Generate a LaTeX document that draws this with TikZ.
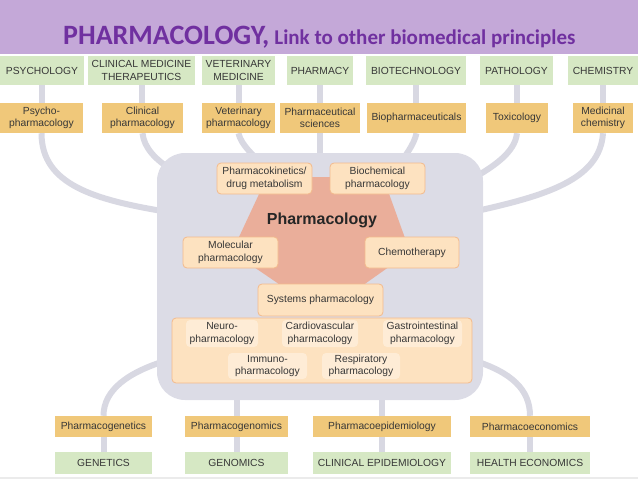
\documentclass[tikz,border=0pt]{standalone}
\usepackage{fontspec}
\setmainfont{Liberation Sans}
\newfontfamily\titlefont{Carlito}
\usetikzlibrary{backgrounds}
\definecolor{banner}{RGB}{196,168,216}
\definecolor{titlecol}{RGB}{112,48,160}
\definecolor{greenbox}{RGB}{214,232,196}
\definecolor{orangebox}{RGB}{240,200,122}
\definecolor{coregray}{RGB}{220,220,230}
\definecolor{conncol}{RGB}{216,216,226}
\definecolor{lightor}{RGB}{253,226,192}
\definecolor{lightorborder}{RGB}{243,186,140}
\definecolor{faintor}{RGB}{254,236,214}
\definecolor{salmon}{RGB}{234,174,154}
\definecolor{txt}{RGB}{55,55,55}
\tikzset{
  base/.style={inner sep=0pt, align=center, text=txt, font=\fontsize{10.3}{12.5}\selectfont},
  gbox/.style={base, fill=greenbox},
  obox/.style={base, fill=orangebox},
  lbox/.style={base, fill=lightor, draw=lightorborder, line width=0.8pt, rounded corners=4pt},
  fbox/.style={base, fill=faintor, rounded corners=4pt},
  conn/.style={draw=conncol, line width=6pt},
}
\begin{document}
\begin{tikzpicture}[x=1pt,y=-1pt]
\useasboundingbox (0,0) rectangle (638,479);
% banner
\fill[banner] (0,0) rectangle (638,54);
\node[anchor=base west, inner sep=0pt, text=titlecol, font=\titlefont\bfseries] (title) at (63,45)
  {{\fontsize{28}{28}\selectfont PHARMACOLOGY,}\hspace{5pt}{\fontsize{21}{21}\selectfont Link to other biomedical principles}};
% top green row
\node[gbox, minimum width=84pt, minimum height=29pt] (psy) at (42,70.5) {PSYCHOLOGY};
\node[gbox, minimum width=107pt, minimum height=29pt] (clinmed) at (141.5,70.5) {CLINICAL MEDICINE\\THERAPEUTICS};
\node[gbox, minimum width=73pt, minimum height=29pt] (vetmed) at (238.5,70.5) {VETERINARY\\MEDICINE};
\node[gbox, minimum width=66pt, minimum height=29pt] (pharmacy) at (320,70.5) {PHARMACY};
\node[gbox, minimum width=100pt, minimum height=29pt] (biotech) at (416,70.5) {BIOTECHNOLOGY};
\node[gbox, minimum width=73pt, minimum height=29pt] (patho) at (516.5,70.5) {PATHOLOGY};
\node[gbox, minimum width=70pt, minimum height=29pt] (chem) at (603,70.5) {CHEMISTRY};
% orange row
\node[obox, minimum width=83pt, minimum height=30pt] (psyph) at (41.5,118) {Psycho-\\pharmacology};
\node[obox, minimum width=81pt, minimum height=30pt] (clinph) at (142.5,118) {Clinical\\pharmacology};
\node[obox, minimum width=73pt, minimum height=30pt] (vetph) at (238.5,118) {Veterinary\\pharmacology};
\node[obox, minimum width=80pt, minimum height=30pt] (pharmsci) at (320,118) {Pharmaceutical\\sciences};
\node[obox, minimum width=99pt, minimum height=30pt] (bioph) at (416.5,118) {Biopharmaceuticals};
\node[obox, minimum width=62pt, minimum height=30pt] (tox) at (517,118) {Toxicology};
\node[obox, minimum width=60pt, minimum height=30pt] (medch) at (603,118) {Medicinal\\chemistry};
% core
\node[fill=coregray, rounded corners=28pt, minimum width=326pt, minimum height=247pt, inner sep=0pt] (core) at (320,276.5) {};
\fill[salmon] (267,177) -- (383,177) -- (410,252) -- (352,293) -- (292,293) -- (232,252) -- cycle;
\node[inner sep=0pt, font=\fontsize{16}{16}\selectfont\bfseries, text=black!85] (pharmacology) at (322,220) {Pharmacology};
\node[lbox, minimum width=95pt, minimum height=31pt] (pk) at (264.5,178.5) {Pharmacokinetics/\\drug metabolism};
\node[lbox, minimum width=95pt, minimum height=31pt] (bc) at (377.5,178.5) {Biochemical\\pharmacology};
\node[lbox, minimum width=95pt, minimum height=31pt] (mol) at (230.5,252.5) {Molecular\\pharmacology};
\node[lbox, minimum width=94pt, minimum height=31pt] (chemo) at (412,252.5) {Chemotherapy};
\node[lbox, minimum width=125pt, minimum height=32pt] (sys) at (320.5,300) {Systems pharmacology};
\node[lbox, minimum width=300pt, minimum height=65pt] (big) at (322,350.5) {};
\node[fbox, minimum width=72pt, minimum height=27pt] (neuro) at (222,333.5) {Neuro-\\pharmacology};
\node[fbox, minimum width=76pt, minimum height=27pt] (cardio) at (320,333.5) {Cardiovascular\\pharmacology};
\node[fbox, minimum width=79pt, minimum height=27pt] (gastro) at (422.5,333.5) {Gastrointestinal\\pharmacology};
\node[fbox, minimum width=79pt, minimum height=26pt] (immuno) at (267.5,366) {Immuno-\\pharmacology};
\node[fbox, minimum width=78pt, minimum height=26pt] (resp) at (361,366) {Respiratory\\pharmacology};
% bottom rows
\node[obox, minimum width=97pt, minimum height=21pt] (pgen) at (103.5,426.5) {Pharmacogenetics};
\node[obox, minimum width=103pt, minimum height=21pt] (pgenom) at (236.5,426.5) {Pharmacogenomics};
\node[obox, minimum width=138pt, minimum height=21pt] (pepi) at (382,426.5) {Pharmacoepidemiology};
\node[obox, minimum width=120pt, minimum height=21pt] (pecon) at (530,426.5) {Pharmacoeconomics};
\node[gbox, minimum width=97pt, minimum height=22pt] (genetics) at (103.5,463) {GENETICS};
\node[gbox, minimum width=103pt, minimum height=22pt] (genomics) at (236.5,463) {GENOMICS};
\node[gbox, minimum width=138pt, minimum height=22pt] (clinepi) at (382,463) {CLINICAL EPIDEMIOLOGY};
\node[gbox, minimum width=120pt, minimum height=22pt] (healthec) at (530,463) {HEALTH ECONOMICS};
% connector ends inside core
\coordinate (c1) at (168,212);
\coordinate (c2) at (172,170);
\coordinate (c3) at (264,166);
\coordinate (c4) at (320,166);
\coordinate (c5) at (398,166);
\coordinate (c6) at (470,180);
\coordinate (c7) at (472,212);
\coordinate (b1) at (168,360);
\coordinate (b2) at (236.5,390);
\coordinate (b3) at (382,390);
\coordinate (b4) at (472,360);
\begin{pgfonlayer}{background}
\draw[conn] (psy.south) -- (psy.south |- psyph.north);
\draw[conn] (clinmed.south) -- (clinmed.south |- clinph.north);
\draw[conn] (vetmed.south) -- (vetmed.south |- vetph.north);
\draw[conn] (pharmacy.south) -- (pharmacy.south |- pharmsci.north);
\draw[conn] (biotech.south) -- (biotech.south |- bioph.north);
\draw[conn] (patho.south) -- (patho.south |- tox.north);
\draw[conn] (chem.south) -- (chem.south |- medch.north);
\draw[conn] (psyph.south) .. controls (41.5,185) and (95,200) .. (c1);
\draw[conn] (clinph.south) .. controls (144,148) and (156,160) .. (c2);
\draw[conn] (vetph.south) .. controls (241,145) and (254,156) .. (c3);
\draw[conn] (pharmsci.south) -- (c4);
\draw[conn] (bioph.south) .. controls (414,145) and (405,156) .. (c5);
\draw[conn] (tox.south) .. controls (515,152) and (495,166) .. (c6);
\draw[conn] (medch.south) .. controls (600,180) and (545,196) .. (c7);
\draw[conn] (b1) .. controls (128,372) and (103.5,390) .. (pgen.north);
\draw[conn] (b2) -- (pgenom.north);
\draw[conn] (b3) -- (pepi.north);
\draw[conn] (b4) .. controls (512,372) and (530,390) .. (pecon.north);
\draw[conn] (pgen.south) -- (genetics.north);
\draw[conn] (pgenom.south) -- (genomics.north);
\draw[conn] (pepi.south) -- (clinepi.north);
\draw[conn] (pecon.south) -- (healthec.north);
\end{pgfonlayer}
\fill[black!8] (0,477) rectangle (638,479);
\end{tikzpicture}
\end{document}
